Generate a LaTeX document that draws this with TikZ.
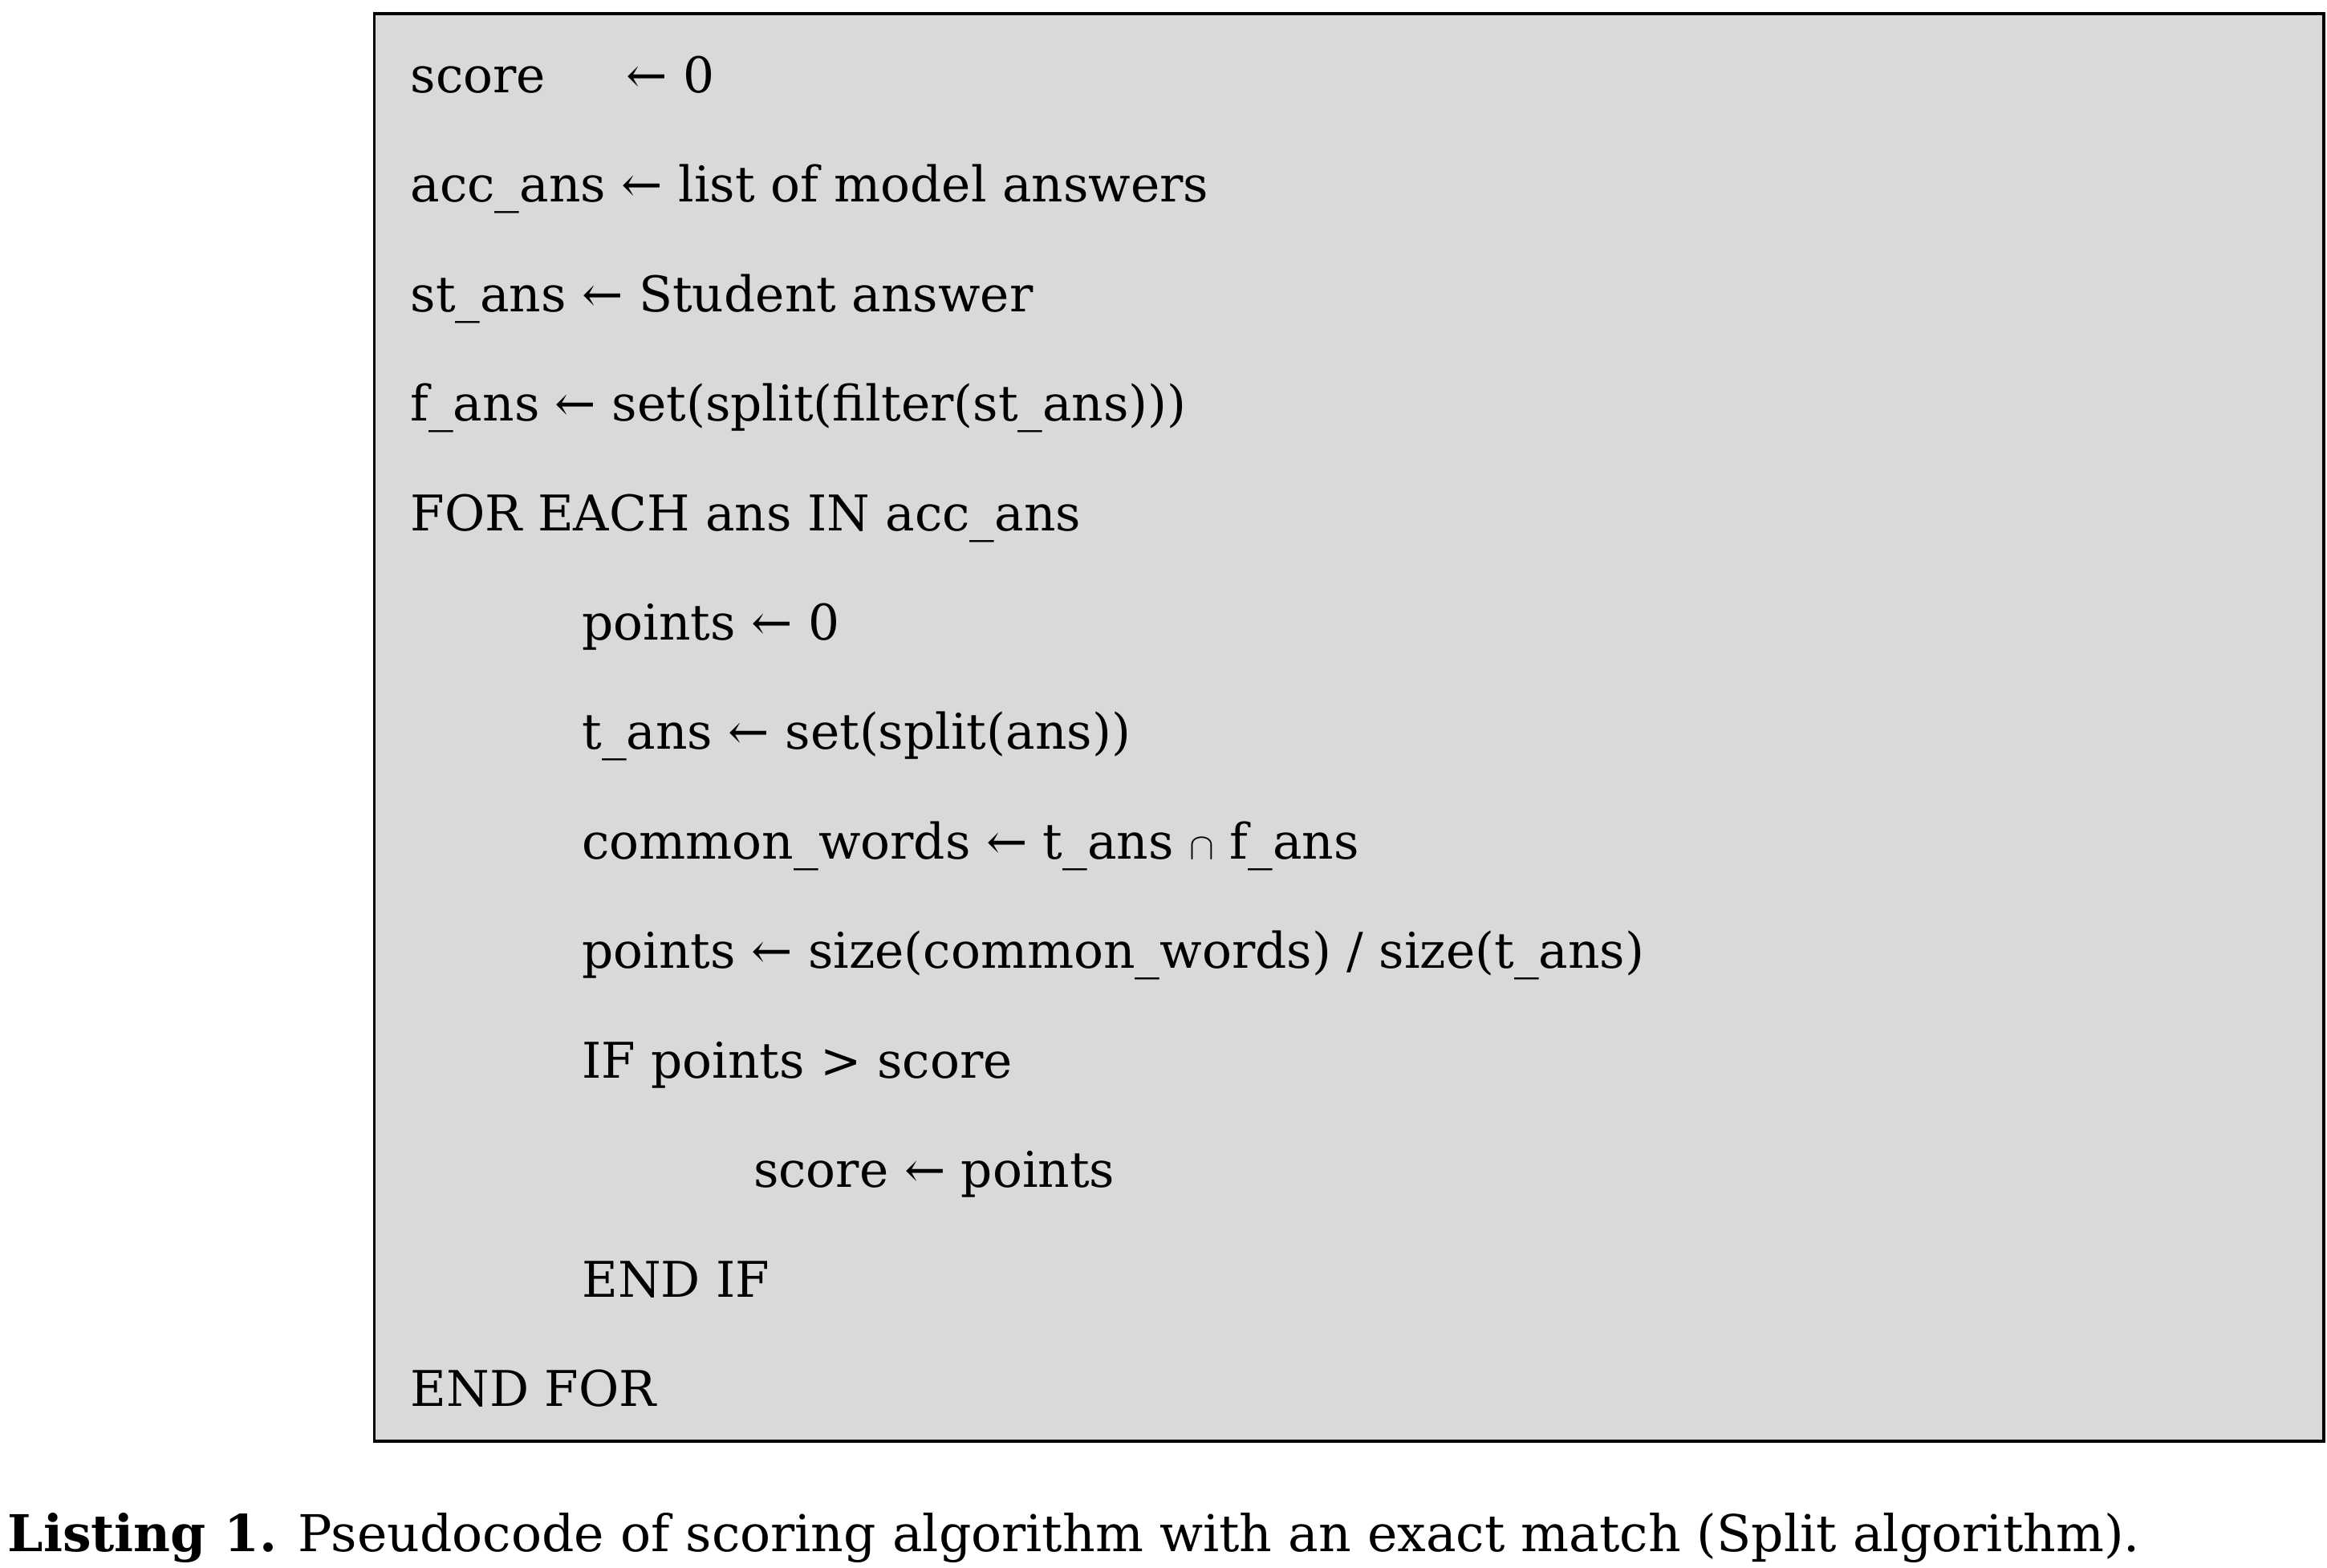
\documentclass[tikz,border=0pt]{standalone}
\usepackage{fontspec}
\setmainfont{DejaVu Serif}
\begin{document}
\begin{tikzpicture}[x=1pt,y=-1pt,
  ln/.style={anchor=base west,inner sep=0pt,font=\fontsize{33}{38}\selectfont},
  capt/.style={anchor=base west,inner sep=0pt,font=\fontsize{34}{38}\selectfont}]
\useasboundingbox (0,0) rectangle (1560,1051);
\node[draw=black,line width=2pt,fill=black!15,minimum width=1307pt,minimum height=957pt,anchor=north west,inner sep=0pt] (box) at (250,8) {};
\def\L{73.4}
\def\ar{ ← }
\node[ln] (l1) at (275,62) {score \quad\ar0};
\node[ln] (l2) at (275,62+\L) {acc\_ans\ar list of model answers};
\node[ln] (l3) at (275,62+2*\L) {st\_ans\ar Student answer};
\node[ln] (l4) at (275,62+3*\L) {f\_ans\ar set(split(filter(st\_ans)))};
\node[ln] (l5) at (275,62+4*\L) {FOR EACH ans IN acc\_ans};
\node[ln] (l6) at (390,62+5*\L) {points\ar 0};
\node[ln] (l7) at (390,62+6*\L) {t\_ans\ar set(split(ans))};
\node[ln] (l8) at (390,62+7*\L) {common\_words\ar t\_ans $\cap$ f\_ans};
\node[ln] (l9) at (390,62+8*\L) {points\ar size(common\_words) / size(t\_ans)};
\node[ln] (l10) at (390,62+9*\L) {IF points > score};
\node[ln] (l11) at (505,62+10*\L) {score\ar points};
\node[ln] (l12) at (390,62+11*\L) {END IF};
\node[ln] (l13) at (275,62+12*\L) {END FOR};
\node[capt] (cap) at (5,1040) {\textbf{Listing 1.} Pseudocode of scoring algorithm with an exact match (Split algorithm).};
\end{tikzpicture}
\end{document}
